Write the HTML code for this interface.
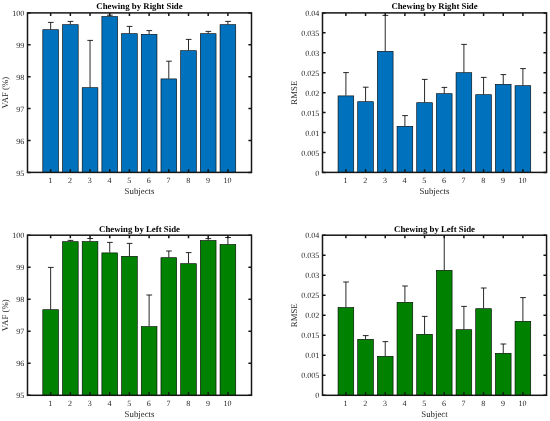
<!DOCTYPE html>
<html><head><meta charset="utf-8"><title>Chewing VAF and RMSE</title>
<style>html,body{margin:0;padding:0;background:#fff}svg{display:block}text{text-rendering:geometricPrecision;font-family:"Liberation Serif","Times New Roman",serif}.tk{font-size:8px;fill:#262626}.lb{font-size:8.8px;fill:#262626}.tt{font-size:8.8px;font-weight:bold;fill:#000}.ax{stroke:#161616;stroke-width:1.5;fill:none}.eb{stroke:#111;stroke-width:0.9;fill:none}.br{stroke:#000;stroke-width:0.6}</style></head><body>
<svg width="550" height="421" viewBox="0 0 550 421">
<rect width="550" height="421" fill="#fff"/>
<g>
<rect class="br" x="42.80" y="29.70" width="15.70" height="142.70" fill="#0072BD"/>
<rect class="br" x="62.49" y="24.70" width="15.70" height="147.70" fill="#0072BD"/>
<rect class="br" x="82.19" y="87.70" width="15.70" height="84.70" fill="#0072BD"/>
<rect class="br" x="101.88" y="16.50" width="15.70" height="155.90" fill="#0072BD"/>
<rect class="br" x="121.58" y="33.70" width="15.70" height="138.70" fill="#0072BD"/>
<rect class="br" x="141.27" y="34.30" width="15.70" height="138.10" fill="#0072BD"/>
<rect class="br" x="160.96" y="78.90" width="15.70" height="93.50" fill="#0072BD"/>
<rect class="br" x="180.66" y="50.70" width="15.70" height="121.70" fill="#0072BD"/>
<rect class="br" x="200.35" y="33.70" width="15.70" height="138.70" fill="#0072BD"/>
<rect class="br" x="220.05" y="24.70" width="15.70" height="147.70" fill="#0072BD"/>
<path class="eb" d="M50.65 29.40V22.40M47.95 22.40H53.65"/>
<path class="eb" d="M70.34 24.40V21.40M67.64 21.40H73.34"/>
<path class="eb" d="M90.04 87.40V40.40M87.34 40.40H93.04"/>
<path class="eb" d="M109.73 16.20V15.20M107.03 15.20H112.73"/>
<path class="eb" d="M129.43 33.40V26.40M126.73 26.40H132.43"/>
<path class="eb" d="M149.12 34.00V30.60M146.42 30.60H152.12"/>
<path class="eb" d="M168.81 78.60V61.20M166.11 61.20H171.81"/>
<path class="eb" d="M188.51 50.40V39.40M185.81 39.40H191.51"/>
<path class="eb" d="M208.20 33.40V31.40M205.50 31.40H211.20"/>
<path class="eb" d="M227.90 24.40V21.40M225.20 21.40H230.90"/>
<rect class="ax" x="27.50" y="12.90" width="224.00" height="159.50"/>
<path class="ax" d="M50.65 172.40v-3.10M50.65 12.90v3.10M70.34 172.40v-3.10M70.34 12.90v3.10M90.04 172.40v-3.10M90.04 12.90v3.10M109.73 172.40v-3.10M109.73 12.90v3.10M129.43 172.40v-3.10M129.43 12.90v3.10M149.12 172.40v-3.10M149.12 12.90v3.10M168.81 172.40v-3.10M168.81 12.90v3.10M188.51 172.40v-3.10M188.51 12.90v3.10M208.20 172.40v-3.10M208.20 12.90v3.10M227.90 172.40v-3.10M227.90 12.90v3.10M27.50 12.90h3.10M251.50 12.90h-3.10M27.50 44.80h3.10M251.50 44.80h-3.10M27.50 76.70h3.10M251.50 76.70h-3.10M27.50 108.60h3.10M251.50 108.60h-3.10M27.50 140.50h3.10M251.50 140.50h-3.10M27.50 172.40h3.10M251.50 172.40h-3.10"/>
<text class="tk" x="50.35" y="182.80" text-anchor="middle">1</text>
<text class="tk" x="70.04" y="182.80" text-anchor="middle">2</text>
<text class="tk" x="89.74" y="182.80" text-anchor="middle">3</text>
<text class="tk" x="109.43" y="182.80" text-anchor="middle">4</text>
<text class="tk" x="129.13" y="182.80" text-anchor="middle">5</text>
<text class="tk" x="148.82" y="182.80" text-anchor="middle">6</text>
<text class="tk" x="168.51" y="182.80" text-anchor="middle">7</text>
<text class="tk" x="188.21" y="182.80" text-anchor="middle">8</text>
<text class="tk" x="207.90" y="182.80" text-anchor="middle">9</text>
<text class="tk" x="227.60" y="182.80" text-anchor="middle">10</text>
<text class="tk" x="24.20" y="16.00" text-anchor="end">100</text>
<text class="tk" x="24.20" y="47.90" text-anchor="end">99</text>
<text class="tk" x="24.20" y="79.80" text-anchor="end">98</text>
<text class="tk" x="24.20" y="111.70" text-anchor="end">97</text>
<text class="tk" x="24.20" y="143.60" text-anchor="end">96</text>
<text class="tk" x="24.20" y="175.50" text-anchor="end">95</text>
<text class="tt" x="139.50" y="9.30" text-anchor="middle">Chewing by Right Side</text>
<text class="lb" x="139.50" y="193.60" text-anchor="middle">Subjects</text>
<text class="lb" transform="translate(8.30 92.65) rotate(-90)" text-anchor="middle">VAF (%)</text>
</g>
<g>
<rect class="br" x="338.05" y="95.90" width="15.70" height="76.50" fill="#0072BD"/>
<rect class="br" x="357.72" y="101.70" width="15.70" height="70.70" fill="#0072BD"/>
<rect class="br" x="377.38" y="51.30" width="15.70" height="121.10" fill="#0072BD"/>
<rect class="br" x="397.05" y="126.30" width="15.70" height="46.10" fill="#0072BD"/>
<rect class="br" x="416.72" y="102.70" width="15.70" height="69.70" fill="#0072BD"/>
<rect class="br" x="436.38" y="93.70" width="15.70" height="78.70" fill="#0072BD"/>
<rect class="br" x="456.05" y="72.70" width="15.70" height="99.70" fill="#0072BD"/>
<rect class="br" x="475.72" y="94.70" width="15.70" height="77.70" fill="#0072BD"/>
<rect class="br" x="495.39" y="84.30" width="15.70" height="88.10" fill="#0072BD"/>
<rect class="br" x="515.05" y="85.70" width="15.70" height="86.70" fill="#0072BD"/>
<path class="eb" d="M345.90 95.60V72.60M343.20 72.60H348.90"/>
<path class="eb" d="M365.57 101.40V87.20M362.87 87.20H368.57"/>
<path class="eb" d="M385.23 51.00V15.40M382.53 15.40H388.23"/>
<path class="eb" d="M404.90 126.00V115.60M402.20 115.60H407.90"/>
<path class="eb" d="M424.57 102.40V79.40M421.87 79.40H427.57"/>
<path class="eb" d="M444.24 93.40V87.40M441.54 87.40H447.24"/>
<path class="eb" d="M463.90 72.40V44.40M461.20 44.40H466.90"/>
<path class="eb" d="M483.57 94.40V77.40M480.87 77.40H486.57"/>
<path class="eb" d="M503.24 84.00V74.60M500.54 74.60H506.24"/>
<path class="eb" d="M522.90 85.40V68.60M520.20 68.60H525.90"/>
<rect class="ax" x="322.50" y="12.90" width="224.05" height="159.50"/>
<path class="ax" d="M345.90 172.40v-3.10M345.90 12.90v3.10M365.57 172.40v-3.10M365.57 12.90v3.10M385.23 172.40v-3.10M385.23 12.90v3.10M404.90 172.40v-3.10M404.90 12.90v3.10M424.57 172.40v-3.10M424.57 12.90v3.10M444.24 172.40v-3.10M444.24 12.90v3.10M463.90 172.40v-3.10M463.90 12.90v3.10M483.57 172.40v-3.10M483.57 12.90v3.10M503.24 172.40v-3.10M503.24 12.90v3.10M522.90 172.40v-3.10M522.90 12.90v3.10M322.50 12.90h3.10M546.55 12.90h-3.10M322.50 32.84h3.10M546.55 32.84h-3.10M322.50 52.77h3.10M546.55 52.77h-3.10M322.50 72.71h3.10M546.55 72.71h-3.10M322.50 92.65h3.10M546.55 92.65h-3.10M322.50 112.59h3.10M546.55 112.59h-3.10M322.50 132.53h3.10M546.55 132.53h-3.10M322.50 152.46h3.10M546.55 152.46h-3.10M322.50 172.40h3.10M546.55 172.40h-3.10"/>
<text class="tk" x="345.60" y="182.80" text-anchor="middle">1</text>
<text class="tk" x="365.27" y="182.80" text-anchor="middle">2</text>
<text class="tk" x="384.93" y="182.80" text-anchor="middle">3</text>
<text class="tk" x="404.60" y="182.80" text-anchor="middle">4</text>
<text class="tk" x="424.27" y="182.80" text-anchor="middle">5</text>
<text class="tk" x="443.94" y="182.80" text-anchor="middle">6</text>
<text class="tk" x="463.60" y="182.80" text-anchor="middle">7</text>
<text class="tk" x="483.27" y="182.80" text-anchor="middle">8</text>
<text class="tk" x="502.94" y="182.80" text-anchor="middle">9</text>
<text class="tk" x="522.60" y="182.80" text-anchor="middle">10</text>
<text class="tk" x="319.20" y="16.00" text-anchor="end">0.04</text>
<text class="tk" x="319.20" y="35.94" text-anchor="end">0.035</text>
<text class="tk" x="319.20" y="55.88" text-anchor="end">0.03</text>
<text class="tk" x="319.20" y="75.81" text-anchor="end">0.025</text>
<text class="tk" x="319.20" y="95.75" text-anchor="end">0.02</text>
<text class="tk" x="319.20" y="115.69" text-anchor="end">0.015</text>
<text class="tk" x="319.20" y="135.62" text-anchor="end">0.01</text>
<text class="tk" x="319.20" y="155.56" text-anchor="end">0.005</text>
<text class="tk" x="319.20" y="175.50" text-anchor="end">0</text>
<text class="tt" x="434.52" y="9.30" text-anchor="middle">Chewing by Right Side</text>
<text class="lb" x="434.52" y="193.60" text-anchor="middle">Subjects</text>
<text class="lb" transform="translate(297.00 92.65) rotate(-90)" text-anchor="middle">RMSE</text>
</g>
<g>
<rect class="br" x="42.80" y="309.70" width="15.70" height="85.60" fill="#008200"/>
<rect class="br" x="62.49" y="241.70" width="15.70" height="153.60" fill="#008200"/>
<rect class="br" x="82.19" y="241.60" width="15.70" height="153.70" fill="#008200"/>
<rect class="br" x="101.88" y="252.90" width="15.70" height="142.40" fill="#008200"/>
<rect class="br" x="121.58" y="256.30" width="15.70" height="139.00" fill="#008200"/>
<rect class="br" x="141.27" y="326.60" width="15.70" height="68.70" fill="#008200"/>
<rect class="br" x="160.96" y="257.70" width="15.70" height="137.60" fill="#008200"/>
<rect class="br" x="180.66" y="263.70" width="15.70" height="131.60" fill="#008200"/>
<rect class="br" x="200.35" y="240.50" width="15.70" height="154.80" fill="#008200"/>
<rect class="br" x="220.05" y="244.50" width="15.70" height="150.80" fill="#008200"/>
<path class="eb" d="M50.65 309.40V267.40M47.95 267.40H53.65"/>
<path class="eb" d="M70.34 241.40V240.40M67.64 240.40H73.34"/>
<path class="eb" d="M90.04 241.30V238.50M87.34 238.50H93.04"/>
<path class="eb" d="M109.73 252.60V242.40M107.03 242.40H112.73"/>
<path class="eb" d="M129.43 256.00V243.40M126.73 243.40H132.43"/>
<path class="eb" d="M149.12 326.30V295.00M146.42 295.00H152.12"/>
<path class="eb" d="M168.81 257.40V251.00M166.11 251.00H171.81"/>
<path class="eb" d="M188.51 263.40V252.60M185.81 252.60H191.51"/>
<path class="eb" d="M208.20 240.20V238.60M205.50 238.60H211.20"/>
<path class="eb" d="M227.90 244.20V237.50M225.20 237.50H230.90"/>
<rect class="ax" x="27.50" y="235.20" width="224.00" height="160.10"/>
<path class="ax" d="M50.65 395.30v-3.10M50.65 235.20v3.10M70.34 395.30v-3.10M70.34 235.20v3.10M90.04 395.30v-3.10M90.04 235.20v3.10M109.73 395.30v-3.10M109.73 235.20v3.10M129.43 395.30v-3.10M129.43 235.20v3.10M149.12 395.30v-3.10M149.12 235.20v3.10M168.81 395.30v-3.10M168.81 235.20v3.10M188.51 395.30v-3.10M188.51 235.20v3.10M208.20 395.30v-3.10M208.20 235.20v3.10M227.90 395.30v-3.10M227.90 235.20v3.10M27.50 235.20h3.10M251.50 235.20h-3.10M27.50 267.22h3.10M251.50 267.22h-3.10M27.50 299.24h3.10M251.50 299.24h-3.10M27.50 331.26h3.10M251.50 331.26h-3.10M27.50 363.28h3.10M251.50 363.28h-3.10M27.50 395.30h3.10M251.50 395.30h-3.10"/>
<text class="tk" x="50.35" y="405.70" text-anchor="middle">1</text>
<text class="tk" x="70.04" y="405.70" text-anchor="middle">2</text>
<text class="tk" x="89.74" y="405.70" text-anchor="middle">3</text>
<text class="tk" x="109.43" y="405.70" text-anchor="middle">4</text>
<text class="tk" x="129.13" y="405.70" text-anchor="middle">5</text>
<text class="tk" x="148.82" y="405.70" text-anchor="middle">6</text>
<text class="tk" x="168.51" y="405.70" text-anchor="middle">7</text>
<text class="tk" x="188.21" y="405.70" text-anchor="middle">8</text>
<text class="tk" x="207.90" y="405.70" text-anchor="middle">9</text>
<text class="tk" x="227.60" y="405.70" text-anchor="middle">10</text>
<text class="tk" x="24.20" y="238.30" text-anchor="end">100</text>
<text class="tk" x="24.20" y="270.32" text-anchor="end">99</text>
<text class="tk" x="24.20" y="302.34" text-anchor="end">98</text>
<text class="tk" x="24.20" y="334.36" text-anchor="end">97</text>
<text class="tk" x="24.20" y="366.38" text-anchor="end">96</text>
<text class="tk" x="24.20" y="398.40" text-anchor="end">95</text>
<text class="tt" x="139.50" y="231.60" text-anchor="middle">Chewing by Left Side</text>
<text class="lb" x="139.50" y="416.50" text-anchor="middle">Subjects</text>
<text class="lb" transform="translate(8.30 315.25) rotate(-90)" text-anchor="middle">VAF (%)</text>
</g>
<g>
<rect class="br" x="338.05" y="307.50" width="15.70" height="87.80" fill="#008200"/>
<rect class="br" x="357.72" y="339.30" width="15.70" height="56.00" fill="#008200"/>
<rect class="br" x="377.38" y="356.30" width="15.70" height="39.00" fill="#008200"/>
<rect class="br" x="397.05" y="302.30" width="15.70" height="93.00" fill="#008200"/>
<rect class="br" x="416.72" y="334.30" width="15.70" height="61.00" fill="#008200"/>
<rect class="br" x="436.38" y="270.30" width="15.70" height="125.00" fill="#008200"/>
<rect class="br" x="456.05" y="329.70" width="15.70" height="65.60" fill="#008200"/>
<rect class="br" x="475.72" y="308.70" width="15.70" height="86.60" fill="#008200"/>
<rect class="br" x="495.39" y="353.30" width="15.70" height="42.00" fill="#008200"/>
<rect class="br" x="515.05" y="321.30" width="15.70" height="74.00" fill="#008200"/>
<path class="eb" d="M345.90 307.20V282.00M343.20 282.00H348.90"/>
<path class="eb" d="M365.57 339.00V335.60M362.87 335.60H368.57"/>
<path class="eb" d="M385.23 356.00V341.60M382.53 341.60H388.23"/>
<path class="eb" d="M404.90 302.00V286.00M402.20 286.00H407.90"/>
<path class="eb" d="M424.57 334.00V316.40M421.87 316.40H427.57"/>
<path class="eb" d="M444.24 270.00V235.20"/>
<path class="eb" d="M463.90 329.40V306.40M461.20 306.40H466.90"/>
<path class="eb" d="M483.57 308.40V288.00M480.87 288.00H486.57"/>
<path class="eb" d="M503.24 353.00V344.00M500.54 344.00H506.24"/>
<path class="eb" d="M522.90 321.00V297.60M520.20 297.60H525.90"/>
<rect class="ax" x="322.50" y="235.20" width="224.05" height="160.10"/>
<path class="ax" d="M345.90 395.30v-3.10M345.90 235.20v3.10M365.57 395.30v-3.10M365.57 235.20v3.10M385.23 395.30v-3.10M385.23 235.20v3.10M404.90 395.30v-3.10M404.90 235.20v3.10M424.57 395.30v-3.10M424.57 235.20v3.10M444.24 395.30v-3.10M444.24 235.20v3.10M463.90 395.30v-3.10M463.90 235.20v3.10M483.57 395.30v-3.10M483.57 235.20v3.10M503.24 395.30v-3.10M503.24 235.20v3.10M522.90 395.30v-3.10M522.90 235.20v3.10M322.50 235.20h3.10M546.55 235.20h-3.10M322.50 255.21h3.10M546.55 255.21h-3.10M322.50 275.23h3.10M546.55 275.23h-3.10M322.50 295.24h3.10M546.55 295.24h-3.10M322.50 315.25h3.10M546.55 315.25h-3.10M322.50 335.26h3.10M546.55 335.26h-3.10M322.50 355.27h3.10M546.55 355.27h-3.10M322.50 375.29h3.10M546.55 375.29h-3.10M322.50 395.30h3.10M546.55 395.30h-3.10"/>
<text class="tk" x="345.60" y="405.70" text-anchor="middle">1</text>
<text class="tk" x="365.27" y="405.70" text-anchor="middle">2</text>
<text class="tk" x="384.93" y="405.70" text-anchor="middle">3</text>
<text class="tk" x="404.60" y="405.70" text-anchor="middle">4</text>
<text class="tk" x="424.27" y="405.70" text-anchor="middle">5</text>
<text class="tk" x="443.94" y="405.70" text-anchor="middle">6</text>
<text class="tk" x="463.60" y="405.70" text-anchor="middle">7</text>
<text class="tk" x="483.27" y="405.70" text-anchor="middle">8</text>
<text class="tk" x="502.94" y="405.70" text-anchor="middle">9</text>
<text class="tk" x="522.60" y="405.70" text-anchor="middle">10</text>
<text class="tk" x="319.20" y="238.30" text-anchor="end">0.04</text>
<text class="tk" x="319.20" y="258.31" text-anchor="end">0.035</text>
<text class="tk" x="319.20" y="278.33" text-anchor="end">0.03</text>
<text class="tk" x="319.20" y="298.34" text-anchor="end">0.025</text>
<text class="tk" x="319.20" y="318.35" text-anchor="end">0.02</text>
<text class="tk" x="319.20" y="338.36" text-anchor="end">0.015</text>
<text class="tk" x="319.20" y="358.38" text-anchor="end">0.01</text>
<text class="tk" x="319.20" y="378.39" text-anchor="end">0.005</text>
<text class="tk" x="319.20" y="398.40" text-anchor="end">0</text>
<text class="tt" x="434.52" y="231.60" text-anchor="middle">Chewing by Left Side</text>
<text class="lb" x="434.52" y="416.50" text-anchor="middle">Subject</text>
<text class="lb" transform="translate(297.00 315.25) rotate(-90)" text-anchor="middle">RMSE</text>
</g>
</svg></body></html>
